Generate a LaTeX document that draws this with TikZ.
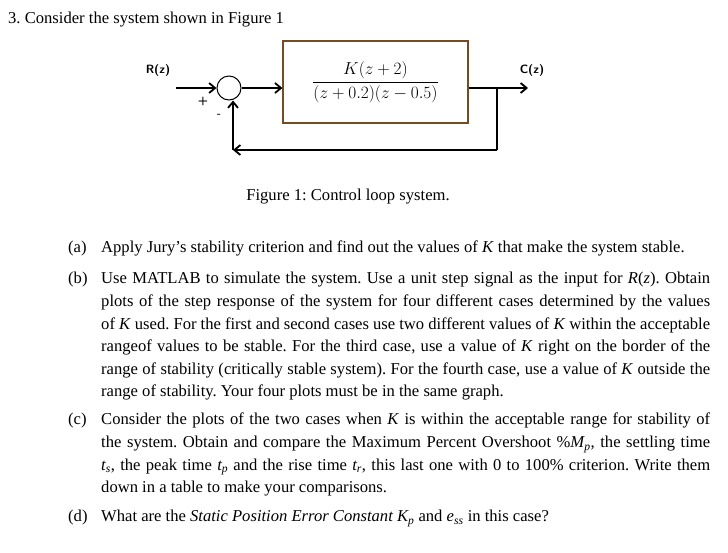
\documentclass[tikz,border=0pt]{standalone}
\usepackage{fontspec}
\setmainfont{Liberation Serif}
\usetikzlibrary{arrows.meta}
\frenchspacing
\tikzset{
  sig/.style={line width=1.8pt, -{Straight Barb[length=6pt,width=10pt,line width=1.8pt]}},
  line/.style={line width=1.8pt},
  para/.style={anchor=north west, text width=609pt, align=justify, inner sep=0pt,
    font=\fontsize{16.6}{22.6}\selectfont},
  lbl/.style={font=\sffamily\bfseries\fontsize{12}{14}\selectfont}
}
\begin{document}
\begin{tikzpicture}[x=1pt,y=-1pt]
\useasboundingbox (0,0) rectangle (728,552);
% heading
\node[anchor=west, inner sep=0pt, font=\fontsize{16.6}{18}\selectfont] (head) at (8,20) {3.\ Consider the system shown in Figure 1};

% block diagram
\node[circle, draw, line width=1pt, minimum size=24pt, inner sep=0pt] (sum) at (229,88) {};
\node[draw=brown!60!black, line width=1.2pt, minimum width=185pt, minimum height=82pt, font=\fontsize{17}{19}\selectfont] (plant) at (375.5,82) {$\displaystyle\frac{K(z+2)}{(z+0.2)(z-0.5)}$};
\coordinate (in) at (176,88);
\coordinate (branch) at (497,88);
\coordinate (out) at (528,88);
\coordinate (fbr) at (497,150);
\coordinate (fbl) at (233,150);
\node[lbl] (rz) at (158,70) {R(z)};
\node[lbl] (cz) at (532,70) {C(z)};
\node[lbl] (plus) at (203,101) {+};
\node[lbl] (minus) at (219,116) {-};
\draw[sig] (in) -- (sum);
\draw[sig] (sum) -- (plant.west |- sum);
\draw[sig] (plant.east |- out) -- (out);
\draw[line] (branch) -- (fbr);
\draw[sig] (fbr) -- (fbl);
\draw[sig] (fbl) -- (sum.south -| fbl);

\node[font=\fontsize{16.6}{18}\selectfont] (cap) at (348,197) {Figure 1: Control loop system.};

% questions
\node[anchor=north west, inner sep=0pt, font=\fontsize{16.6}{18}\selectfont] (la) at (68,241) {(a)};
\node[para] (qa) at (101,241) {Apply Jury’s stability criterion and find out the values of \textit{K} that make the system stable.};
\node[anchor=north west, inner sep=0pt, font=\fontsize{16.6}{18}\selectfont] (lb) at (68,272) {(b)};
\node[para] (qb) at (101,272) {Use MATLAB to simulate the system. Use a unit step signal as the input for \textit{R}(\textit{z}). Obtain\linebreak plots of the step response of the system for four different cases determined by the values\linebreak of \textit{K} used. For the first and second cases use two different values of \textit{K} within the acceptable\linebreak rangeof values to be stable. For the third case, use a value of \textit{K} right on the border of the\linebreak range of stability (critically stable system). For the fourth case, use a value of \textit{K} outside the\linebreak range of stability. Your four plots must be in the same graph.};
\node[anchor=north west, inner sep=0pt, font=\fontsize{16.6}{18}\selectfont] (lc) at (68,413) {(c)};
\node[para] (qc) at (101,413) {Consider the plots of the two cases when \textit{K} is within the acceptable range for stability of\linebreak the system. Obtain and compare the Maximum Percent Overshoot \%\textit{M\textsubscript{p}}, the settling time\linebreak \textit{t\textsubscript{s}}, the peak time \textit{t\textsubscript{p}} and the rise time \textit{t\textsubscript{r}}, this last one with 0 to 100\% criterion. Write them\linebreak down in a table to make your comparisons.};
\node[anchor=north west, inner sep=0pt, font=\fontsize{16.6}{18}\selectfont] (ld) at (68,510) {(d)};
\node[para] (qd) at (101,510) {What are the \textit{Static Position Error Constant K\textsubscript{p}} and \textit{e\textsubscript{ss}} in this case?};
\end{tikzpicture}
\end{document}
